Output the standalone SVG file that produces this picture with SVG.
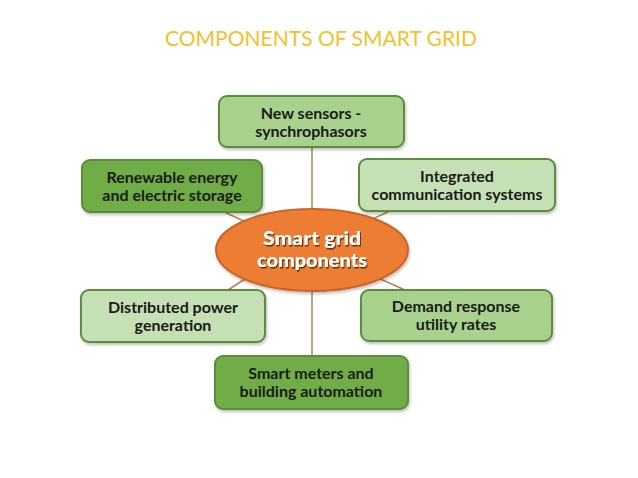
<svg xmlns="http://www.w3.org/2000/svg" width="638" height="478" viewBox="0 0 638 478">
<defs>
<filter id="sh" x="-10%" y="-10%" width="125%" height="135%">
<feDropShadow dx="1" dy="2" stdDeviation="1.5" flood-color="#000" flood-opacity="0.25"/>
</filter>
<filter id="ts" x="-10%" y="-20%" width="120%" height="150%">
<feDropShadow dx="1" dy="1.5" stdDeviation="0.6" flood-color="#000" flood-opacity="0.6"/>
</filter>
</defs>
<style>
.box{stroke:#5b8c3c;stroke-width:2;filter:url(#sh)}
.dk{fill:#70ad47}
.md{fill:#a9d18e}
.lt{fill:#c5e0b4}
.lbl{font-family:Lato,"Open Sans",sans-serif;font-weight:bold;font-size:16px;fill:#1a1a1a;text-anchor:middle}
.con{stroke:#b5805a;stroke-width:1.5;fill:none}
</style>
<rect width="638" height="478" fill="#ffffff"/>
<text x="321" y="46" font-family="Lato,'Open Sans',sans-serif" font-size="22" fill="#f2c12e" text-anchor="middle" textLength="312" lengthAdjust="spacingAndGlyphs">COMPONENTS OF SMART GRID</text>
<g id="connectors">
<line class="con" x1="312" y1="147" x2="312" y2="212"/>
<line class="con" x1="312" y1="288" x2="312" y2="356"/>
<line class="con" x1="222" y1="211" x2="246" y2="222"/>
<line class="con" x1="390" y1="211" x2="366" y2="222"/>
<line class="con" x1="248" y1="277" x2="228" y2="290"/>
<line class="con" x1="376" y1="277" x2="405" y2="290"/>
</g>
<g id="n-center">
<ellipse cx="312" cy="250" rx="96" ry="41" fill="#ed7d31" stroke="#c8652a" stroke-width="2" filter="url(#sh)"/>
<g filter="url(#ts)" font-family="Lato,'Open Sans',sans-serif" font-weight="900" font-size="18" fill="#ffffff" text-anchor="middle">
<text x="312" y="245" textLength="98" lengthAdjust="spacingAndGlyphs">Smart grid</text>
<text x="312" y="267" textLength="110" lengthAdjust="spacingAndGlyphs">components</text>
</g>
</g>
<g id="n-sensors">
<rect class="box md" x="219" y="96" width="185" height="51" rx="8"/>
<text class="lbl" x="311" y="119">New sensors -</text>
<text class="lbl" x="311" y="137">synchrophasors</text>
</g>
<g id="n-renewable">
<rect class="box dk" x="82" y="160" width="180" height="52" rx="8"/>
<text class="lbl" x="172" y="183">Renewable energy</text>
<text class="lbl" x="172" y="201">and electric storage</text>
</g>
<g id="n-integrated">
<rect class="box lt" x="359" y="159" width="196" height="52" rx="8"/>
<text class="lbl" x="457" y="182">Integrated</text>
<text class="lbl" x="457" y="200">communication systems</text>
</g>
<g id="n-distributed">
<rect class="box lt" x="81" y="290" width="184" height="52" rx="8"/>
<text class="lbl" x="173" y="313">Distributed power</text>
<text class="lbl" x="173" y="331">generation</text>
</g>
<g id="n-demand">
<rect class="box md" x="361" y="290" width="191" height="51" rx="8"/>
<text class="lbl" x="456" y="312">Demand response</text>
<text class="lbl" x="456" y="330">utility rates</text>
</g>
<g id="n-meters">
<rect class="box dk" x="215" y="356" width="193" height="53" rx="8"/>
<text class="lbl" x="311" y="379">Smart meters and</text>
<text class="lbl" x="311" y="397">building automation</text>
</g>
</svg>
